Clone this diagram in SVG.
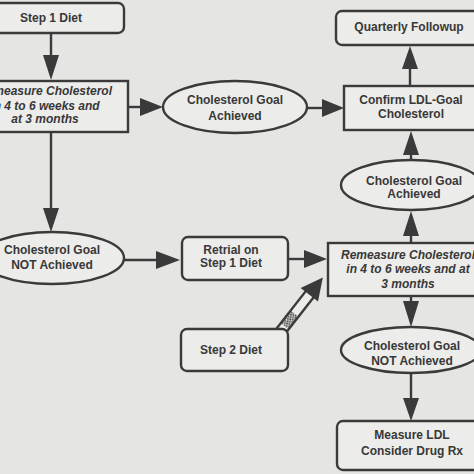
<svg xmlns="http://www.w3.org/2000/svg" width="474" height="474" viewBox="0 0 474 474">
<defs>
<style>
.bx{fill:#ececea;stroke:#3a3a3a;stroke-width:2.4}
.ln{stroke:#3a3a3a;stroke-width:2.4;fill:none}
.hd{fill:#3a3a3a}
.t{font-family:"Liberation Sans",Arial,sans-serif;font-weight:bold;font-size:12px;fill:#383838;text-anchor:middle}
.ti{font-style:italic}
</style>
<pattern id="dots" width="2.4" height="2.4" patternUnits="userSpaceOnUse">
<rect width="2.4" height="2.4" fill="#ececea"/>
<rect width="1.2" height="1.2" fill="#3a3a3a"/>
<rect x="1.2" y="1.2" width="1.2" height="1.2" fill="#3a3a3a"/>
</pattern>
</defs>
<rect width="474" height="474" fill="#e5e5e3"/>

<g id="connectors">
<line class="ln" x1="51" y1="33" x2="51" y2="58"/><polygon class="hd" points="43,55 59,55 51,80"/>
<line class="ln" x1="128" y1="107" x2="142" y2="107"/><polygon class="hd" points="140,98 140,116 163,107"/>
<line class="ln" x1="307" y1="108" x2="324" y2="108"/><polygon class="hd" points="322,99 322,117 344,108"/>
<line class="ln" x1="410" y1="86" x2="410" y2="67"/><polygon class="hd" points="402,69 418,69 410,46"/>
<line class="ln" x1="411" y1="160" x2="411" y2="152"/><polygon class="hd" points="403,155 419,155 411,131"/>
<line class="ln" x1="411" y1="243" x2="411" y2="233"/><polygon class="hd" points="403,236 419,236 411,211"/>
<line class="ln" x1="411" y1="296" x2="411" y2="303"/><polygon class="hd" points="403,301 419,301 411,327"/>
<line class="ln" x1="411" y1="373" x2="411" y2="400"/><polygon class="hd" points="403,398 419,398 411,421"/>
<line class="ln" x1="51" y1="132" x2="51" y2="210"/><polygon class="hd" points="43,208 59,208 51,232"/>
<line class="ln" x1="124" y1="260" x2="158" y2="260"/><polygon class="hd" points="156,251 156,269 180,260"/>
<line class="ln" x1="288" y1="259" x2="306" y2="259"/><polygon class="hd" points="304,250 304,268 327,259"/>
<g transform="translate(281,331) rotate(-52)">
<rect x="0" y="-5" width="47" height="10" fill="#ececea"/>
<rect x="6" y="-5" width="16" height="10" fill="url(#dots)"/>
<line class="ln" x1="-2" y1="-5" x2="47" y2="-5" stroke-width="2"/>
<line class="ln" x1="0" y1="5" x2="47" y2="5" stroke-width="2"/>
<polygon class="hd" points="46,-11 46,11 68,0"/>
</g>
</g>

<g id="step1"><rect class="bx" x="-22" y="3" width="146" height="30" rx="6"/><text class="t" x="51" y="22">Step 1 Diet</text></g>
<g id="remeasureL"><rect class="bx" x="-38" y="81" width="166" height="51"/>
<text class="t ti" x="45" y="95">Remeasure  Cholesterol</text>
<text class="t ti" x="45" y="110">in 4 to 6 weeks and</text>
<text class="t ti" x="45" y="123">at 3 months</text></g>
<g id="goalA1"><ellipse class="bx" cx="235" cy="107" rx="72" ry="26"/>
<text class="t" x="235" y="104">Cholesterol Goal</text><text class="t" x="235" y="120">Achieved</text></g>
<g id="confirm"><rect class="bx" x="344" y="86" width="134" height="44"/>
<text class="t" x="411" y="104">Confirm  LDL-Goal</text><text class="t" x="411" y="118">Cholesterol</text></g>
<g id="quarterly"><rect class="bx" x="336" y="11" width="146" height="34" rx="6"/>
<text class="t" x="409" y="31">Quarterly  Followup</text></g>
<g id="goalA2"><ellipse class="bx" cx="411" cy="185" rx="70" ry="25"/>
<text class="t" x="414" y="185">Cholesterol Goal</text><text class="t" x="414" y="198">Achieved</text></g>
<g id="remeasureR"><rect class="bx" x="328" y="243" width="162" height="53"/>
<text class="t ti" x="408" y="259">Remeasure  Cholesterol</text>
<text class="t ti" x="408" y="273">in 4 to 6 weeks and at</text>
<text class="t ti" x="408" y="288">3 months</text></g>
<g id="goalN2"><ellipse class="bx" cx="411" cy="350" rx="70" ry="23"/>
<text class="t" x="412" y="350">Cholesterol Goal</text><text class="t" x="412" y="365">NOT  Achieved</text></g>
<g id="measure"><rect class="bx" x="337" y="421" width="150" height="49" rx="6"/>
<text class="t" x="412" y="439">Measure  LDL</text><text class="t" x="412" y="455">Consider Drug Rx</text></g>
<g id="goalN1"><ellipse class="bx" cx="52" cy="258" rx="72" ry="26"/>
<text class="t" x="52" y="254">Cholesterol Goal</text><text class="t" x="52" y="269">NOT  Achieved</text></g>
<g id="retrial"><rect class="bx" x="182" y="237" width="106" height="43" rx="6"/>
<text class="t" x="231" y="254">Retrial  on</text><text class="t" x="231" y="267">Step 1 Diet</text></g>
<g id="step2"><rect class="bx" x="181" y="329" width="107" height="42" rx="6"/>
<text class="t" x="231" y="354">Step 2 Diet</text></g>
</svg>
